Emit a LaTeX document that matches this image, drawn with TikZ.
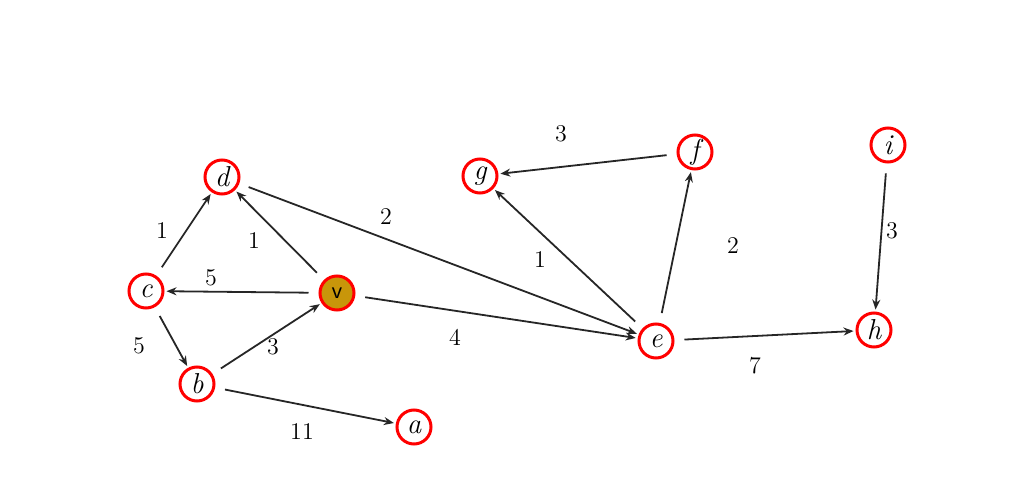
\documentclass[tikz,border=0pt]{standalone}
\usetikzlibrary{arrows.meta}
\begin{document}
\begin{tikzpicture}[x=0.5pt,y=-0.5pt,
  vert/.style={circle,draw=red,line width=1.5pt,minimum size=17pt,inner sep=0pt,font=\Large\itshape},
  edge/.style={draw=black!85,line width=0.9pt,-{Stealth[length=5pt,width=4pt]},shorten <=5pt,shorten >=1pt},
  wt/.style={font=\large}]
\useasboundingbox (0,0) rectangle (1024,492);
\node[vert] (d) at (222,177) {d};
\node[vert] (g) at (480,176) {g};
\node[vert] (f) at (695,152) {f};
\node[vert] (i) at (888,145) {i};
\node[vert] (c) at (146,291) {c};
\node[vert,fill={rgb,255:red,200;green,150;blue,10},font=\sffamily\large] (v) at (337,293) {v};
\node[vert] (e) at (656,341) {e};
\node[vert] (h) at (874,330) {h};
\node[vert] (b) at (197,384) {b};
\node[vert] (a) at (414,427) {a};
\draw[edge] (c) -- (d);
\draw[edge] (v) -- (d);
\draw[edge] (v) -- (c);
\draw[edge] (c) -- (b);
\draw[edge] (b) -- (v);
\draw[edge] (b) -- (a);
\draw[edge] (d) -- (e);
\draw[edge] (v) -- (e);
\draw[edge] (e) -- (g);
\draw[edge] (e) -- (f);
\draw[edge] (f) -- (g);
\draw[edge] (e) -- (h);
\draw[edge] (i) -- (h);
\node[wt] (w1) at (162,231) {1};
\node[wt] (w2) at (254,241) {1};
\node[wt] (w3) at (211,278) {5};
\node[wt] (w4) at (139,346) {5};
\node[wt] (w5) at (273,347) {3};
\node[wt] (w6) at (302,432) {11};
\node[wt] (w7) at (386,217) {2};
\node[wt] (w8) at (455,337) {4};
\node[wt] (w9) at (540,260) {1};
\node[wt] (w10) at (733,246) {2};
\node[wt] (w11) at (561,134) {3};
\node[wt] (w12) at (755,366) {7};
\node[wt] (w13) at (892,231) {3};
\end{tikzpicture}
\end{document}
